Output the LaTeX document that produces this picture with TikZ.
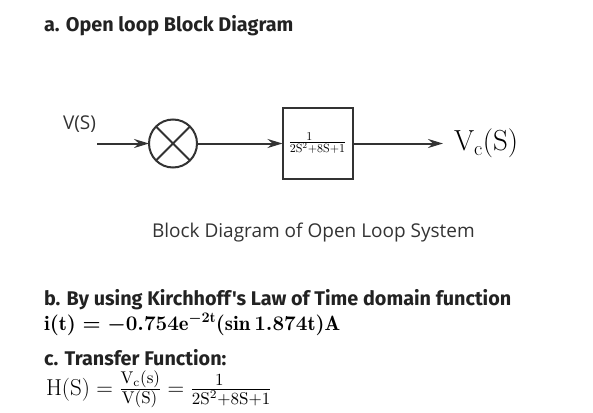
\RequirePackage{fix-cm}
\documentclass[tikz,border=0pt]{standalone}
\usepackage{amsmath}
\usepackage{graphicx}
\usepackage{fontspec}
\usepackage{tikz}
\usetikzlibrary{arrows.meta,positioning}
\newfontfamily\headfont{Fira Sans}
\newfontfamily\labelfont{Open Sans}
\newcommand{\fpart}[2]{\scalebox{#1}{\fontsize{10}{12}\selectfont$#2$}}
\definecolor{ink}{HTML}{333333}
\definecolor{headink}{HTML}{222222}
\begin{document}
\begin{tikzpicture}[x=1pt,y=-1pt,
  every node/.style={inner sep=0pt,outer sep=0pt},
  heading/.style={anchor=base west,font=\headfont\bfseries\fontsize{19.8}{21}\selectfont,text=headink},
  wire/.style={draw=ink,line width=2pt,-{Stealth[length=15pt,width=9pt,inset=5pt]}},
  mathline/.style={anchor=base west,text=black}]
  \useasboundingbox (0,0) rectangle (593,412);
  % headings
  \node[heading] (ha) at (44,31) {a. Open loop Block Diagram};
  \node[heading] (hb) at (44,305) {b. By using Kirchhoff's Law of Time domain function};
  \node[heading] (hc) at (44,365) {c. Transfer Function:};
  % block diagram
  \coordinate (in) at (97,143.5);
  \coordinate (out) at (443,143.5);
  \node[circle,draw=ink,line width=2pt,minimum size=48pt] (sum) at (173,143.5) {};
  \draw[ink,line width=2pt] (sum.north west) -- (sum.south east)
    (sum.north east) -- (sum.south west);
  \node[draw=ink,line width=2pt,minimum width=70pt,minimum height=71pt] (plant) at (317.5,143.5)
    {$\frac{\fpart{1.2}{1}}{\fpart{1.2}{2\mathrm{S}^2{+}8\mathrm{S}{+}1}}$};
  \node[anchor=base west,font=\labelfont\fontsize{19}{20}\selectfont,text=ink] (vin) at (63,129) {V(S)};
  \node[anchor=west,font=\fontsize{29}{31}\selectfont] (vout) at (454,143.5) {$\mathrm{V_c(S)}$};
  \draw[wire] (in) -- (sum);
  \draw[wire] (sum) -- (plant);
  \draw[wire] (plant) -- (out);
  \node[anchor=base west,font=\labelfont\fontsize{19}{20}\selectfont,text=ink] (cap) at (152,237)
    {Block Diagram of Open Loop System};
  % equations
  \node[mathline,font=\fontsize{20.7}{22}\selectfont\boldmath] (eqi) at (44,330)
    {$\mathrm{i(t)}=-0.754\mathrm{e}^{-2\mathrm{t}}(\sin 1.874\mathrm{t})\mathrm{A}$};
  \node[mathline,font=\fontsize{23}{25}\selectfont] (eqh) at (46,395)
    {$\mathrm{H(S)}=\frac{\fpart{1.7}{\mathrm{V_c(s)}}}{\fpart{1.7}{\mathrm{V(S)}}}
      =\frac{\fpart{1.7}{1}}{\fpart{1.7}{2\mathrm{S}^2{+}8\mathrm{S}{+}1}}$};
\end{tikzpicture}
\end{document}
